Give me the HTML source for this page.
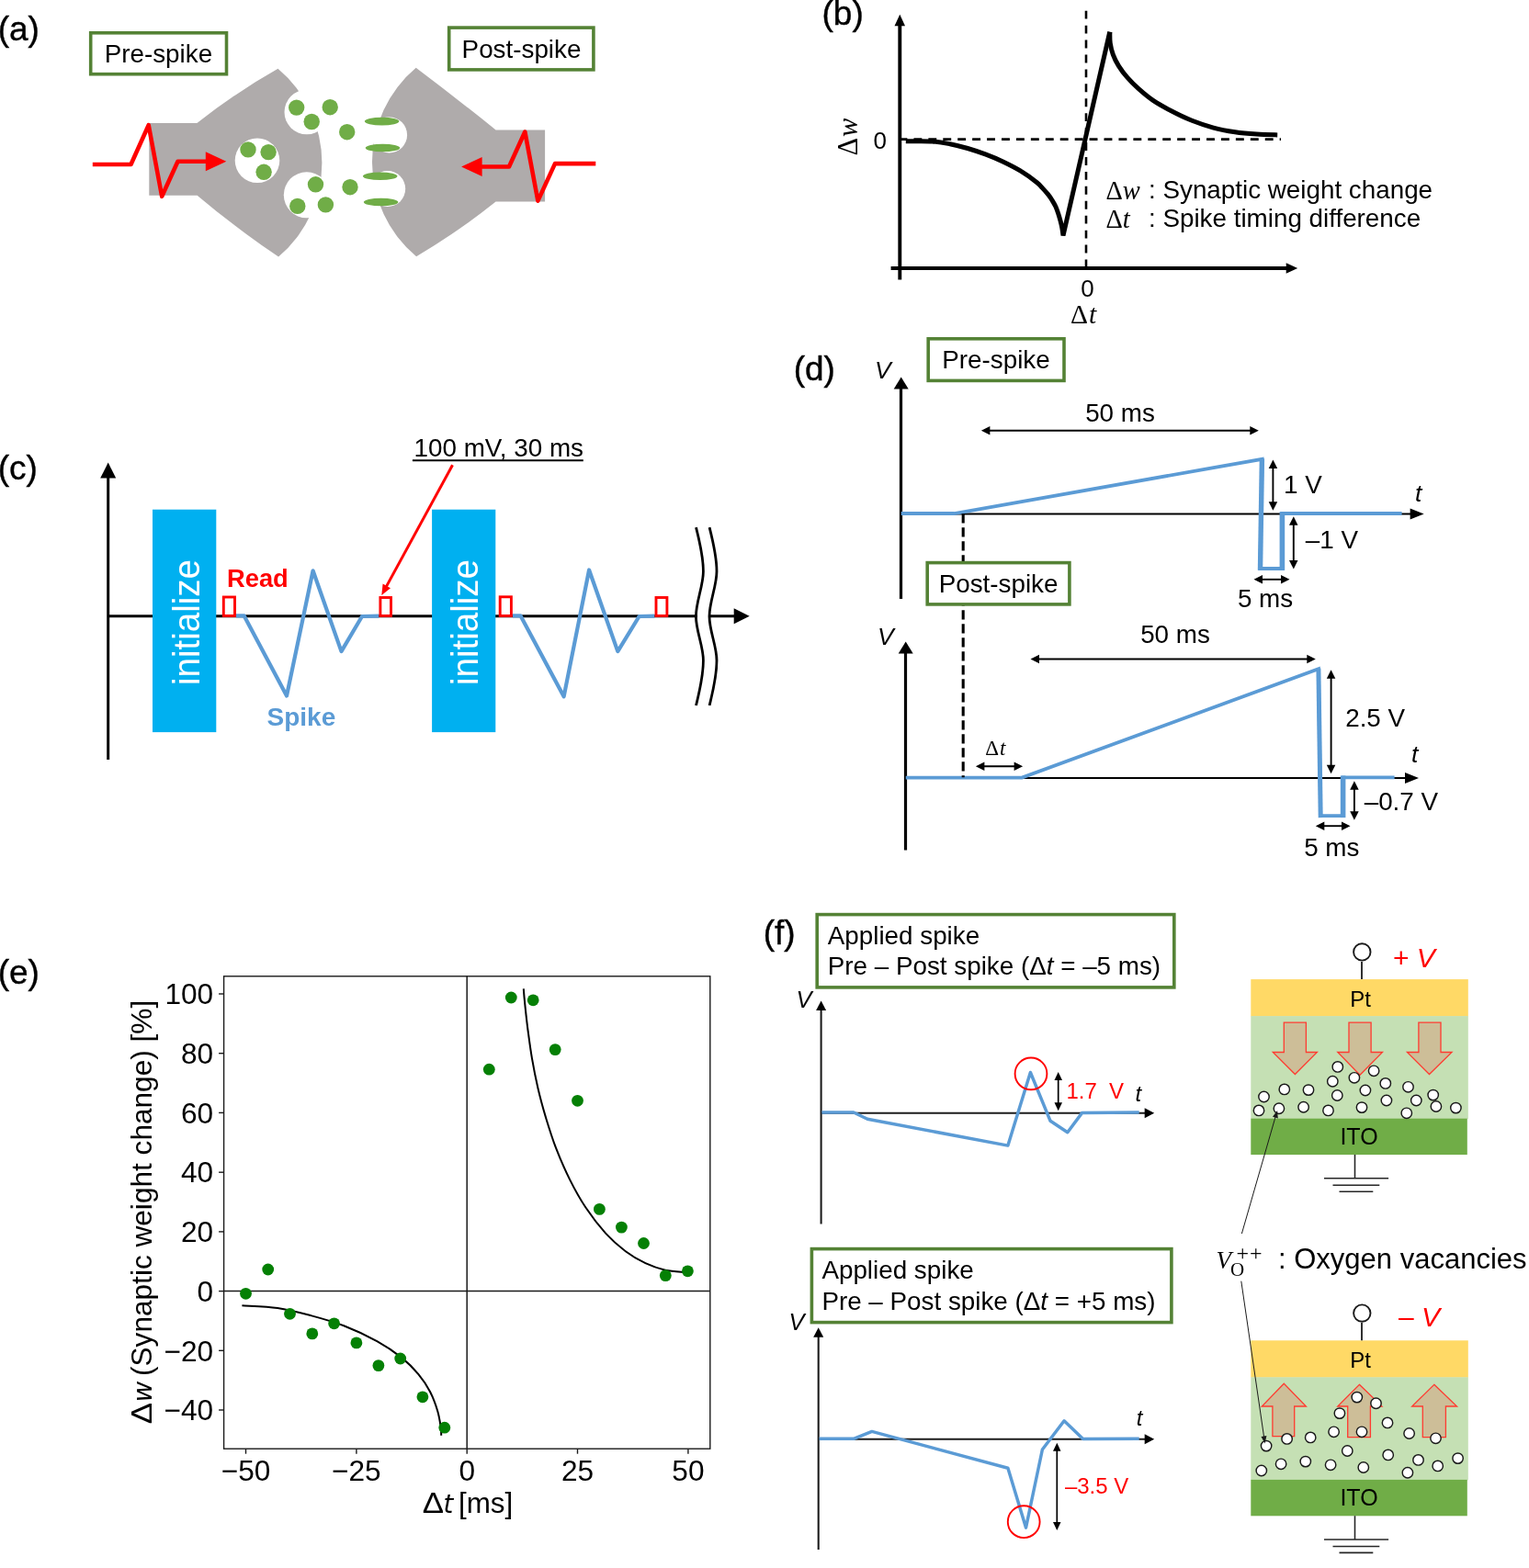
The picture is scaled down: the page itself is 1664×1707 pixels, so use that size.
<!DOCTYPE html>
<html lang="en">
<head>
<meta charset="utf-8">
<title>STDP figure</title>
<style>
html,body{margin:0;padding:0;background:#fff;}
body{width:1664px;height:1707px;overflow:hidden;}
svg{display:block;font-family:"Liberation Sans", Arial, Helvetica, sans-serif;}
</style>
</head>
<body>
<svg width="1664" height="1707" viewBox="0 0 1664 1707">
<rect width="1664" height="1707" fill="#fff"/>
<!-- panel a -->
<text x="-2.3" y="44.3" font-size="37" stroke="#000" stroke-width="0.4">(a)</text>
<rect x="98.7" y="35.8" width="147.8" height="44.9" fill="#fff" stroke="#548235" stroke-width="3.6"/>
<text x="172.4" y="67.6" font-size="27.8" text-anchor="middle">Pre-spike</text>
<rect x="488.7" y="30.1" width="157.2" height="45.8" fill="#fff" stroke="#548235" stroke-width="3.6"/>
<text x="567.5" y="62.8" font-size="27.8" text-anchor="middle">Post-spike</text>
<path d="M162.3,134 L214.4,134 Q256,101 302.5,74.8 A134,134 0 0 1 303.1,279.6 Q257,248.5 214.6,212.7 L162.3,212.7 Z" fill="#afabab"/>
<path d="M593.1,141.5 L539.6,141.5 Q498,108 452.7,73.8 A134,134 0 0 0 453.1,279.2 Q499,252 539.6,219.6 L593.1,219.6 Z" fill="#afabab"/>
<circle cx="280" cy="174.8" r="24.3" fill="#fff"/>
<circle cx="333.8" cy="122" r="24.3" fill="#fff"/>
<circle cx="333.8" cy="212.3" r="25" fill="#fff"/>
<circle cx="423.6" cy="146.9" r="19.5" fill="#fff"/>
<circle cx="421.7" cy="205.6" r="19.5" fill="#fff"/>
<g fill="#70ad47">
<circle cx="322.7" cy="117.1" r="8.7"/>
<circle cx="359.2" cy="116.7" r="8.7"/>
<circle cx="339.2" cy="132.5" r="8.7"/>
<circle cx="377.7" cy="143.7" r="8.7"/>
<circle cx="270" cy="162.9" r="8.7"/>
<circle cx="292.1" cy="165.6" r="8.7"/>
<circle cx="287.1" cy="187.3" r="8.7"/>
<circle cx="343.5" cy="200.8" r="8.7"/>
<circle cx="381" cy="203.7" r="8.7"/>
<circle cx="323.8" cy="224.4" r="8.7"/>
<circle cx="354.4" cy="222.9" r="8.7"/>
<ellipse cx="415.6" cy="132.1" rx="18.8" ry="4.3"/>
<ellipse cx="416.5" cy="161" rx="18.8" ry="4.3"/>
<ellipse cx="413.7" cy="191.7" rx="18.8" ry="4.3"/>
<ellipse cx="414.6" cy="220" rx="18.8" ry="4.3"/>
</g>
<polyline points="100.8,179 142.5,179 161.7,136.2 176.2,213.8 193.5,175.8 226,175.8" fill="none" stroke="#ff0000" stroke-width="4.6" stroke-linejoin="round"/>
<polygon points="246.3,175.8 223.8,186.3 223.8,165.3" fill="#ff0000"/>
<polyline points="648.3,178.1 604,178.1 585.4,218.6 571.3,143.5 554,181.5 522,181.5" fill="none" stroke="#ff0000" stroke-width="4.6" stroke-linejoin="round"/>
<polygon points="502.1,181.5 524.6,171 524.6,192" fill="#ff0000"/>
<!-- panel b -->
<text x="894.5" y="26.6" font-size="37" stroke="#000" stroke-width="0.4">(b)</text>
<line x1="979.3" y1="304.6" x2="979.3" y2="26" stroke="#000" stroke-width="3.9"/>
<polygon points="979.3,15.8 985,28.3 973.5,28.3" fill="#000"/>
<line x1="969.6" y1="292" x2="1401" y2="292" stroke="#000" stroke-width="3.9"/>
<polygon points="1412.2,292 1399.7,297.8 1399.7,286.2" fill="#000"/>
<line x1="1182" y1="11.7" x2="1182" y2="292" stroke="#000" stroke-width="2.6" stroke-dasharray="8.9 7.03"/>
<line x1="978.5" y1="151.6" x2="1394" y2="151.6" stroke="#000" stroke-width="2.6" stroke-dasharray="8.9 7.03"/>
<path d="M985.8,153.8 C990.6,153.8 1006.6,153.4 1014.6,153.9 C1022.6,154.4 1027.4,155.4 1033.8,156.7 C1040.2,158 1046.7,159.6 1053.1,161.5 C1059.5,163.4 1065.9,165.5 1072.3,167.9 C1078.7,170.3 1085.1,172.9 1091.5,176 C1097.9,179.1 1104.7,182.4 1110.8,186.2 C1116.9,189.9 1124.3,195.4 1128.2,198.5 C1132.1,201.6 1132.4,202.5 1134.4,204.6 C1136.4,206.7 1138.4,209 1140.2,211.2 C1142,213.4 1143.6,215.7 1145,218 C1146.4,220.3 1147.7,222.4 1148.8,224.8 C1149.9,227.2 1150.8,229.8 1151.7,232.5 C1152.6,235.2 1153.4,238.1 1154.1,240.7 C1154.8,243.3 1155.3,245.4 1155.8,248 C1156.3,250.6 1156.8,255.1 1157,256.5 L1207.8,34.6" fill="none" stroke="#000" stroke-width="5" stroke-linejoin="bevel"/>
<path d="M1207.8,35 C1207.9,37 1207.6,42.8 1208.2,46.9 C1208.8,51 1209.8,55.2 1211.3,59.4 C1212.8,63.6 1214.9,67.7 1217.5,71.9 C1220.1,76.1 1223.2,80.2 1226.9,84.4 C1230.6,88.6 1234.7,92.7 1239.4,96.9 C1244.1,101.1 1249.3,105.5 1255,109.4 C1260.7,113.3 1266.8,116.6 1273.8,120.3 C1280.8,124 1289.4,128.2 1297.2,131.3 C1305,134.4 1312.8,137 1320.6,139.1 C1328.4,141.2 1336.3,142.6 1344.1,143.8 C1351.9,145 1359.8,145.6 1367.5,146.1 C1375.2,146.6 1386.4,146.8 1390.2,146.9" fill="none" stroke="#000" stroke-width="5"/>
<text x="957.8" y="162.3" font-size="26" text-anchor="middle">0</text>
<text x="1183.4" y="323.3" font-size="26" text-anchor="middle">0</text>
<text transform="translate(932.5,148.6) rotate(-90)" text-anchor="middle" font-size="30.5" letter-spacing="0.8" font-family='"Liberation Serif", "DejaVu Serif", serif'>Δ<tspan font-style="italic">w</tspan></text>
<text x="1179.5" y="352" text-anchor="middle" font-size="29.5" letter-spacing="1" font-family='"Liberation Serif", "DejaVu Serif", serif'>Δ<tspan font-style="italic">t</tspan></text>
<text x="1203.5" y="216.6" font-size="28.5" font-family='"Liberation Serif", "DejaVu Serif", serif'>Δ<tspan font-style="italic">w</tspan></text>
<text x="1203.5" y="248" font-size="28.5" font-family='"Liberation Serif", "DejaVu Serif", serif'>Δ<tspan font-style="italic">t</tspan></text>
<text x="1250" y="215.6" font-size="27.8">: Synaptic weight change</text>
<text x="1250" y="246.9" font-size="27.8">: Spike timing difference</text>
<!-- panel c -->
<text x="-2.3" y="521.6" font-size="37" stroke="#000" stroke-width="0.4">(c)</text>
<line x1="117.7" y1="827" x2="117.7" y2="518" stroke="#000" stroke-width="3"/>
<polygon points="117.7,503.6 126.2,520.6 109.2,520.6" fill="#000"/>
<line x1="117.7" y1="670.7" x2="800" y2="670.7" stroke="#000" stroke-width="3"/>
<polygon points="815.7,670.7 798.7,679.2 798.7,662.2" fill="#000"/>
<rect x="166" y="554.7" width="69.3" height="242.4" fill="#00b0f0"/>
<text transform="translate(216.8,677.5) rotate(-90)" text-anchor="middle" font-size="40.5" fill="#fff" textLength="137" lengthAdjust="spacingAndGlyphs">initialize</text>
<rect x="470.1" y="554.7" width="69.2" height="242.4" fill="#00b0f0"/>
<text transform="translate(520.3,677.5) rotate(-90)" text-anchor="middle" font-size="40.5" fill="#fff" textLength="137" lengthAdjust="spacingAndGlyphs">initialize</text>
<polyline points="257,670.4 265.7,670.4 312,757.5 340.6,621.3 371.5,709.1 394,671 412.5,670.7" fill="none" stroke="#5b9bd5" stroke-width="4.2" stroke-linejoin="round"/>
<polyline points="557.9,670.4 566.6,670.4 613.6,758.3 641.1,620.5 672.3,709.1 695.6,671 712.5,670.7" fill="none" stroke="#5b9bd5" stroke-width="4.2" stroke-linejoin="round"/>
<rect x="243.3" y="650" width="12.2" height="20.4" fill="#fff" stroke="#ff0000" stroke-width="2.9"/>
<rect x="413.9" y="650.5" width="11.6" height="19.9" fill="#fff" stroke="#ff0000" stroke-width="2.9"/>
<rect x="544.2" y="649.8" width="12.2" height="20.6" fill="#fff" stroke="#ff0000" stroke-width="2.9"/>
<rect x="714" y="650.5" width="11.9" height="19.9" fill="#fff" stroke="#ff0000" stroke-width="2.9"/>
<text x="247" y="638.5" font-size="27.3" font-weight="bold" fill="#ff0000">Read</text>
<text x="290.5" y="789.6" font-size="28" font-weight="bold" fill="#5b9bd5">Spike</text>
<text x="450.6" y="497" font-size="27.8">100 mV, 30 ms</text>
<line x1="448.9" y1="501.2" x2="634.8" y2="501.2" stroke="#000" stroke-width="2.1"/>
<line x1="492.5" y1="506.3" x2="419.7" y2="639.9" stroke="#ff0000" stroke-width="3"/>
<polygon points="415.3,648 416.6,635.6 425,640.2" fill="#ff0000"/>
<rect x="759" y="664" width="14" height="14" fill="#fff"/>
<path d="M757.5,574.2 C761.5,590 765.4,606 765.4,622 S757.4,655 757.4,671 S765.4,703 765.4,719 S761.5,752 757.5,768" fill="none" stroke="#000" stroke-width="2.8"/>
<path d="M772.1,574.2 C776.1,590 780,606 780,622 S772,655 772,671 S780,703 780,719 S776.1,752 772.1,768" fill="none" stroke="#000" stroke-width="2.8"/>
<!-- panel d -->
<text x="863.7" y="413.8" font-size="37" stroke="#000" stroke-width="0.4">(d)</text>
<text x="952" y="412.4" font-size="26.5" font-style="italic">V</text>
<line x1="980.5" y1="652" x2="980.5" y2="421" stroke="#000" stroke-width="3.2"/>
<polygon points="980.7,410.6 988.7,423.6 972.7,423.6" fill="#000"/>
<line x1="980.7" y1="559.5" x2="1538" y2="559.5" stroke="#000" stroke-width="2"/>
<polygon points="1549.6,559.5 1534.6,565.5 1534.6,553.5" fill="#000"/>
<text x="955" y="702" font-size="26.5" font-style="italic">V</text>
<line x1="985.5" y1="925.6" x2="985.5" y2="709" stroke="#000" stroke-width="3.2"/>
<polygon points="985.7,698.6 993.7,711.6 977.7,711.6" fill="#000"/>
<line x1="985.7" y1="847" x2="1532" y2="847" stroke="#000" stroke-width="2"/>
<polygon points="1544,847 1529,853 1529,841" fill="#000"/>
<polyline points="980.7,559 1038.5,559 1373.6,499.8 1371.3,619 1395.6,619 1395.6,559 1525.6,559" fill="none" stroke="#5b9bd5" stroke-width="3.8" stroke-linejoin="miter"/>
<line x1="1373.4" y1="499.2" x2="1371.5" y2="620.9" stroke="#5b9bd5" stroke-width="5.4"/>
<line x1="1395.4" y1="557.1" x2="1395.4" y2="620.9" stroke="#5b9bd5" stroke-width="5.6"/>
<polyline points="985.7,846.6 1112.2,846.6 1434.9,728.2 1437.2,888.2 1461.6,888.2 1461.6,846.4 1517.6,846.4" fill="none" stroke="#5b9bd5" stroke-width="3.8" stroke-linejoin="miter"/>
<line x1="1434.9" y1="727.6" x2="1437.2" y2="890.1" stroke="#5b9bd5" stroke-width="5"/>
<line x1="1461.6" y1="844.5" x2="1461.6" y2="890.1" stroke="#5b9bd5" stroke-width="5.6"/>
<line x1="1048.2" y1="559.2" x2="1048.2" y2="846.2" stroke="#000" stroke-width="3.1" stroke-dasharray="10.3 4.7"/>
<rect x="1010.2" y="368.8" width="147.8" height="45.6" fill="#fff" stroke="#548235" stroke-width="3.6"/>
<text x="1084" y="401.3" font-size="27.8" text-anchor="middle">Pre-spike</text>
<rect x="1009.2" y="612.6" width="154.7" height="45.3" fill="#fff" stroke="#548235" stroke-width="3.6"/>
<text x="1086.6" y="644.9" font-size="27.8" text-anchor="middle">Post-spike</text>
<text x="1219" y="459" font-size="27.8" text-anchor="middle">50 ms</text>
<line x1="1075.5" y1="468.7" x2="1362.2" y2="468.7" stroke="#000" stroke-width="1.9"/>
<polygon points="1369.8,468.7 1360.3,473.4 1360.3,463.9" fill="#000"/>
<polygon points="1067.9,468.7 1077.4,463.9 1077.4,473.4" fill="#000"/>
<text x="1397" y="536.6" font-size="27.8">1 V</text>
<line x1="1385.4" y1="508.1" x2="1385.4" y2="548.2" stroke="#000" stroke-width="1.9"/>
<polygon points="1385.4,555.8 1380.7,546.3 1390.2,546.3" fill="#000"/>
<polygon points="1385.4,500.5 1390.2,510 1380.7,510" fill="#000"/>
<text x="1420.8" y="596.7" font-size="27.8">–1 V</text>
<line x1="1407.8" y1="569.9" x2="1407.8" y2="611.9" stroke="#000" stroke-width="1.9"/>
<polygon points="1407.8,619.5 1403,610 1412.5,610" fill="#000"/>
<polygon points="1407.8,562.3 1412.5,571.8 1403,571.8" fill="#000"/>
<line x1="1372.1" y1="630.8" x2="1395.9" y2="630.8" stroke="#000" stroke-width="1.9"/>
<polygon points="1403.5,630.8 1394,635.5 1394,626" fill="#000"/>
<polygon points="1364.5,630.8 1374,626 1374,635.5" fill="#000"/>
<text x="1377" y="661.1" font-size="27.8" text-anchor="middle">5 ms</text>
<text x="1540" y="546.2" font-size="26.5" font-style="italic">t</text>
<text x="1279" y="700.2" font-size="27.8" text-anchor="middle">50 ms</text>
<line x1="1129.1" y1="717.5" x2="1424.2" y2="717.5" stroke="#000" stroke-width="1.9"/>
<polygon points="1431.8,717.5 1422.3,722.2 1422.3,712.8" fill="#000"/>
<polygon points="1121.5,717.5 1131,712.8 1131,722.2" fill="#000"/>
<text x="1464.2" y="790.6" font-size="27.8">2.5 V</text>
<line x1="1448.6" y1="736.9" x2="1448.6" y2="834.7" stroke="#000" stroke-width="1.9"/>
<polygon points="1448.6,842.3 1443.8,832.8 1453.3,832.8" fill="#000"/>
<polygon points="1448.6,729.3 1453.3,738.8 1443.8,738.8" fill="#000"/>
<text x="1484.7" y="881.9" font-size="27.8">–0.7 V</text>
<line x1="1473.9" y1="857.8" x2="1473.9" y2="885.1" stroke="#000" stroke-width="1.9"/>
<polygon points="1473.9,892.7 1469.2,883.2 1478.7,883.2" fill="#000"/>
<polygon points="1473.9,850.2 1478.7,859.7 1469.2,859.7" fill="#000"/>
<line x1="1439.4" y1="899.2" x2="1461.9" y2="899.2" stroke="#000" stroke-width="1.9"/>
<polygon points="1469.5,899.2 1460,904 1460,894.5" fill="#000"/>
<polygon points="1431.8,899.2 1441.3,894.5 1441.3,904" fill="#000"/>
<text x="1449.3" y="932" font-size="27.8" text-anchor="middle">5 ms</text>
<text x="1536" y="830.2" font-size="26.5" font-style="italic">t</text>
<text x="1072.3" y="821.7" font-size="23" letter-spacing="0.8" font-family='"Liberation Serif", "DejaVu Serif", serif'>Δ<tspan font-style="italic">t</tspan></text>
<line x1="1069.5" y1="834.3" x2="1105.5" y2="834.3" stroke="#000" stroke-width="1.9"/>
<polygon points="1113.1,834.3 1103.6,839 1103.6,829.5" fill="#000"/>
<polygon points="1061.9,834.3 1071.4,829.5 1071.4,839" fill="#000"/>
<!-- panel e -->
<text x="-2.3" y="1070.9" font-size="37" stroke="#000" stroke-width="0.4">(e)</text>
<rect x="243.6" y="1062.8" width="529.2" height="514.4" fill="none" stroke="#1a1a1a" stroke-width="1.4"/>
<line x1="508.2" y1="1062.8" x2="508.2" y2="1577.2" stroke="#1a1a1a" stroke-width="1.5"/>
<line x1="243.6" y1="1405.6" x2="772.8" y2="1405.6" stroke="#1a1a1a" stroke-width="1.5"/>
<g stroke="#1a1a1a" stroke-width="1.4">
<line x1="267.5" y1="1577.2" x2="267.5" y2="1582.7"/>
<line x1="387.9" y1="1577.2" x2="387.9" y2="1582.7"/>
<line x1="508.2" y1="1577.2" x2="508.2" y2="1582.7"/>
<line x1="628.5" y1="1577.2" x2="628.5" y2="1582.7"/>
<line x1="748.9" y1="1577.2" x2="748.9" y2="1582.7"/>
<line x1="238.1" y1="1082" x2="243.6" y2="1082"/>
<line x1="238.1" y1="1146.7" x2="243.6" y2="1146.7"/>
<line x1="238.1" y1="1211.4" x2="243.6" y2="1211.4"/>
<line x1="238.1" y1="1276.2" x2="243.6" y2="1276.2"/>
<line x1="238.1" y1="1340.9" x2="243.6" y2="1340.9"/>
<line x1="238.1" y1="1405.6" x2="243.6" y2="1405.6"/>
<line x1="238.1" y1="1470.3" x2="243.6" y2="1470.3"/>
<line x1="238.1" y1="1535" x2="243.6" y2="1535"/>
</g>
<g font-size="31.6" text-anchor="middle">
<text x="267.5" y="1611.6">−50</text>
<text x="387.9" y="1611.6">−25</text>
<text x="508.2" y="1611.6">0</text>
<text x="628.5" y="1611.6">25</text>
<text x="748.9" y="1611.6">50</text>
</g>
<g font-size="31.6" text-anchor="end">
<text x="232.2" y="1093.2">100</text>
<text x="232.2" y="1157.9">80</text>
<text x="232.2" y="1222.6">60</text>
<text x="232.2" y="1287.4">40</text>
<text x="232.2" y="1352.1">20</text>
<text x="232.2" y="1416.8">0</text>
<text x="232.2" y="1481.5">−20</text>
<text x="232.2" y="1546.2">−40</text>
</g>
<text transform="translate(459.8,1646.8) scale(1.11,1)" font-size="31.4">Δ</text>
<text x="482.6" y="1646.8" font-size="27.5" font-style="italic" font-family='"DejaVu Sans", "Liberation Sans", sans-serif'>t</text>
<text x="499" y="1646.8" font-size="31.4">[ms]</text>
<text transform="translate(165.2,1550.2) rotate(-90) scale(1.1,1)" font-size="31.6">Δ</text>
<text transform="translate(165.2,1526.2) rotate(-90)" font-size="27.5" font-style="italic" font-family='"DejaVu Sans", "Liberation Sans", sans-serif'>w</text>
<text transform="translate(165.2,1498) rotate(-90)" font-size="31.6">(Synaptic weight change) [%]</text>
<path d="M263.4,1421.3 C269.8,1421.8 289.6,1422.2 302.1,1424 C314.6,1425.8 326.2,1428.9 338.2,1432.1 C350.2,1435.3 362.2,1438.6 374.2,1443.3 C386.2,1448 399.8,1454.3 410.3,1460.1 C420.8,1465.9 429.8,1472.1 437.3,1478.1 C444.8,1484.1 450.3,1489.9 455.4,1496.1 C460.5,1502.2 464.6,1508.4 468,1515 C471.4,1521.6 474.2,1529.3 476.1,1535.8 C478.1,1542.3 479,1549.3 479.7,1553.8 C480.4,1558.3 480.1,1561.3 480.2,1562.8" fill="none" stroke="#000" stroke-width="2"/>
<path d="M569.8,1076.4 C570,1079.2 570.5,1085.9 571.3,1093.4 C572.1,1100.9 573.2,1111.8 574.5,1121.5 C575.8,1131.2 577.1,1141.4 578.9,1151.9 C580.7,1162.4 582.9,1173.6 585.4,1184.4 C587.9,1195.2 590.9,1206.1 594.1,1216.9 C597.4,1227.7 600.6,1238.2 604.9,1249.4 C609.2,1260.6 614.7,1273.2 620.1,1284.1 C625.5,1294.9 630.9,1304.8 637.4,1314.5 C643.9,1324.2 651.9,1334.6 659.1,1342.6 C666.3,1350.5 673.6,1356.8 680.8,1362.2 C688,1367.6 695.2,1371.8 702.4,1375.2 C709.6,1378.6 716.9,1381.1 724.1,1382.7 C731.3,1384.3 742.2,1384.7 745.8,1385.1" fill="none" stroke="#000" stroke-width="2"/>
<g fill="#058005">
<circle cx="267.5" cy="1408.3" r="6.4"/>
<circle cx="291.7" cy="1382" r="6.4"/>
<circle cx="315.5" cy="1430.3" r="6.4"/>
<circle cx="339.8" cy="1451.9" r="6.4"/>
<circle cx="363.6" cy="1440.8" r="6.4"/>
<circle cx="387.9" cy="1461.9" r="6.4"/>
<circle cx="411.9" cy="1486.6" r="6.4"/>
<circle cx="435.7" cy="1479" r="6.4"/>
<circle cx="459.9" cy="1520.8" r="6.4"/>
<circle cx="483.8" cy="1554.2" r="6.4"/>
<circle cx="532.3" cy="1164.2" r="6.4"/>
<circle cx="556.3" cy="1086" r="6.4"/>
<circle cx="580.2" cy="1088.8" r="6.4"/>
<circle cx="604.2" cy="1142.6" r="6.4"/>
<circle cx="628.5" cy="1198.3" r="6.4"/>
<circle cx="652.4" cy="1316.4" r="6.4"/>
<circle cx="676.4" cy="1336.1" r="6.4"/>
<circle cx="700.5" cy="1353.5" r="6.4"/>
<circle cx="724.3" cy="1388.6" r="6.4"/>
<circle cx="748.4" cy="1383.8" r="6.4"/>
</g>
<!-- panel f -->
<text x="830.7" y="1028.4" font-size="37" stroke="#000" stroke-width="0.4">(f)</text>
<rect x="889.2" y="995.6" width="388.6" height="79.3" fill="#fff" stroke="#548235" stroke-width="3.6"/>
<text x="900.8" y="1028" font-size="27.8">Applied spike</text>
<text x="900.8" y="1061.3" font-size="27.8">Pre – Post spike (Δ<tspan font-style="italic">t</tspan> = –5 ms)</text>
<rect x="883.4" y="1359.6" width="391.5" height="80" fill="#fff" stroke="#548235" stroke-width="3.6"/>
<text x="894.4" y="1392.3" font-size="27.8">Applied spike</text>
<text x="894.4" y="1425.7" font-size="27.8">Pre – Post spike (Δ<tspan font-style="italic">t</tspan> = +5 ms)</text>
<text x="866.6" y="1096.8" font-size="25.5" font-style="italic">V</text>
<line x1="893.6" y1="1332.5" x2="893.6" y2="1098" stroke="#1c1c1c" stroke-width="2.1"/>
<polygon points="893.6,1089.6 899.1,1100.1 888.1,1100.1" fill="#000"/>
<line x1="893.6" y1="1211.8" x2="1247" y2="1211.8" stroke="#1c1c1c" stroke-width="2.1"/>
<polygon points="1256.2,1211.8 1245.7,1217.3 1245.7,1206.3" fill="#000"/>
<polyline points="894.4,1211 929,1211 944,1218.3 1096.9,1247.1 1121.4,1167.5 1143.1,1220.3 1161.8,1232.7 1177.7,1211.4 1239.7,1211" fill="none" stroke="#5b9bd5" stroke-width="3.5" stroke-linejoin="round"/>
<circle cx="1122" cy="1168.9" r="17.4" fill="none" stroke="#ff0000" stroke-width="1.9"/>
<line x1="1151.7" y1="1174.1" x2="1151.7" y2="1202.1" stroke="#000" stroke-width="1.7"/>
<polygon points="1151.7,1209.3 1147.5,1200.3 1156,1200.3" fill="#000"/>
<polygon points="1151.7,1166.9 1156,1175.9 1147.5,1175.9" fill="#000"/>
<text x="1160.4" y="1195.8" font-size="24" fill="#ff0000" xml:space="preserve" style="white-space:pre">1.7  V</text>
<text x="1235.4" y="1199.2" font-size="24" font-style="italic">t</text>
<text x="858.6" y="1447.8" font-size="25.5" font-style="italic">V</text>
<line x1="890.7" y1="1687" x2="890.7" y2="1454" stroke="#1c1c1c" stroke-width="2.1"/>
<polygon points="890.7,1445.3 896.2,1455.8 885.2,1455.8" fill="#000"/>
<line x1="890.7" y1="1566.7" x2="1247" y2="1566.7" stroke="#1c1c1c" stroke-width="2.1"/>
<polygon points="1256.2,1566.7 1245.7,1572.2 1245.7,1561.2" fill="#000"/>
<polyline points="891.5,1566.2 929.6,1566.2 948.9,1558.4 1096.9,1598.2 1116.5,1663.1 1134.4,1578 1158.1,1546.8 1178.6,1566.5 1239.7,1566.2" fill="none" stroke="#5b9bd5" stroke-width="3.5" stroke-linejoin="round"/>
<circle cx="1114.2" cy="1656.7" r="17.4" fill="none" stroke="#ff0000" stroke-width="1.9"/>
<line x1="1150.3" y1="1578" x2="1150.3" y2="1658.8" stroke="#000" stroke-width="1.7"/>
<polygon points="1150.3,1666 1146,1657 1154.5,1657" fill="#000"/>
<polygon points="1150.3,1570.8 1154.5,1579.8 1146,1579.8" fill="#000"/>
<text x="1158.9" y="1625.6" font-size="24" fill="#ff0000">–3.5 V</text>
<text x="1236.8" y="1552" font-size="24" font-style="italic">t</text>
<rect x="1361.3" y="1066.1" width="236.5" height="40.4" fill="#ffd966"/>
<rect x="1361.3" y="1106.1" width="236.5" height="112" fill="#c5e0b4"/>
<rect x="1361.3" y="1217.7" width="235.5" height="39.4" fill="#70ad47"/>
<text x="1480.5" y="1095.8" font-size="24" text-anchor="middle">Pt</text>
<text x="1479" y="1246" font-size="25" text-anchor="middle">ITO</text>
<circle cx="1482.3" cy="1036.4" r="9.2" fill="#fff" stroke="#1a1a1a" stroke-width="1.9"/>
<line x1="1482" y1="1046.9" x2="1482" y2="1066.1" stroke="#1a1a1a" stroke-width="1.8"/>
<line x1="1474.5" y1="1257" x2="1474.5" y2="1282.8" stroke="#262626" stroke-width="1.6"/>
<line x1="1441" y1="1282.8" x2="1511.1" y2="1282.8" stroke="#262626" stroke-width="1.6"/>
<line x1="1450.5" y1="1290.3" x2="1501.3" y2="1290.3" stroke="#262626" stroke-width="1.6"/>
<line x1="1457.5" y1="1297.2" x2="1494.3" y2="1297.2" stroke="#262626" stroke-width="1.6"/>
<text x="1516" y="1053" font-size="30" fill="#ff0000">+ <tspan font-style="italic">V</tspan></text>
<rect x="1361.3" y="1459.3" width="236.5" height="40.4" fill="#ffd966"/>
<rect x="1361.3" y="1499.3" width="236.5" height="112" fill="#c5e0b4"/>
<rect x="1361.3" y="1610.9" width="235.5" height="39.4" fill="#70ad47"/>
<text x="1480.5" y="1489" font-size="24" text-anchor="middle">Pt</text>
<text x="1479" y="1639.2" font-size="25" text-anchor="middle">ITO</text>
<circle cx="1482.3" cy="1429.6" r="9.2" fill="#fff" stroke="#1a1a1a" stroke-width="1.9"/>
<line x1="1482" y1="1440.1" x2="1482" y2="1459.3" stroke="#1a1a1a" stroke-width="1.8"/>
<line x1="1474.5" y1="1650.2" x2="1474.5" y2="1676" stroke="#262626" stroke-width="1.6"/>
<line x1="1441" y1="1676" x2="1511.1" y2="1676" stroke="#262626" stroke-width="1.6"/>
<line x1="1450.5" y1="1683.5" x2="1501.3" y2="1683.5" stroke="#262626" stroke-width="1.6"/>
<line x1="1457.5" y1="1690.4" x2="1494.3" y2="1690.4" stroke="#262626" stroke-width="1.6"/>
<text x="1522" y="1443.5" font-size="30" fill="#ff0000">– <tspan font-style="italic">V</tspan></text>
<g fill="#cdbe98" stroke="#ff3b30" stroke-width="1.3" stroke-linejoin="miter">
<polygon points="1397.3,1113.1 1421.4,1113.1 1421.4,1145.5 1433.4,1145.5 1409.4,1169.5 1385.3,1145.5 1397.3,1145.5" fill="#cdbe98"/>
<polygon points="1468,1113.1 1492.1,1113.1 1492.1,1145.5 1504.5,1145.5 1480,1170.2 1455.8,1145.5 1468,1145.5" fill="#cdbe98"/>
<polygon points="1543.9,1113.1 1568,1113.1 1568,1145.5 1580,1145.5 1555.5,1169.5 1531.4,1145.5 1543.9,1145.5" fill="#cdbe98"/>
<polygon points="1397.3,1506.3 1421.4,1531 1408.7,1531 1408.7,1563.6 1384.9,1563.6 1384.9,1531 1373.3,1531" fill="#cdbe98"/>
<polygon points="1479.4,1507.3 1503.9,1531 1491.4,1531 1491.4,1564.7 1466.7,1564.7 1466.7,1531 1455.8,1531" fill="#cdbe98"/>
<polygon points="1560.8,1507.3 1585.5,1531 1573.4,1531 1573.4,1564.7 1548.3,1564.7 1548.3,1531 1536.7,1531" fill="#cdbe98"/>
</g>
<g fill="#fff" stroke="#1a1a1a" stroke-width="1.45">
<circle cx="1375.5" cy="1194" r="5.7"/>
<circle cx="1370" cy="1208.9" r="5.7"/>
<circle cx="1391.9" cy="1206.7" r="5.7"/>
<circle cx="1397.8" cy="1185.9" r="5.7"/>
<circle cx="1424" cy="1186.6" r="5.7"/>
<circle cx="1418.6" cy="1205.2" r="5.7"/>
<circle cx="1445.5" cy="1208.9" r="5.7"/>
<circle cx="1450.3" cy="1177.2" r="5.7"/>
<circle cx="1455.8" cy="1161.4" r="5.7"/>
<circle cx="1455.3" cy="1192.5" r="5.7"/>
<circle cx="1473.9" cy="1173.3" r="5.7"/>
<circle cx="1485.9" cy="1187" r="5.7"/>
<circle cx="1482" cy="1205.6" r="5.7"/>
<circle cx="1495.1" cy="1165.8" r="5.7"/>
<circle cx="1507.8" cy="1179.4" r="5.7"/>
<circle cx="1508.9" cy="1198" r="5.7"/>
<circle cx="1532.5" cy="1183.3" r="5.7"/>
<circle cx="1530.8" cy="1211.8" r="5.7"/>
<circle cx="1541.3" cy="1198" r="5.7"/>
<circle cx="1559.7" cy="1192.1" r="5.7"/>
<circle cx="1562.9" cy="1204.5" r="5.7"/>
<circle cx="1584.4" cy="1206.1" r="5.7"/>
<circle cx="1378.1" cy="1574.1" r="5.7"/>
<circle cx="1400.6" cy="1566.4" r="5.7"/>
<circle cx="1426.2" cy="1564.9" r="5.7"/>
<circle cx="1372.8" cy="1601" r="5.7"/>
<circle cx="1394.1" cy="1593.8" r="5.7"/>
<circle cx="1420.8" cy="1591.1" r="5.7"/>
<circle cx="1448.1" cy="1594.8" r="5.7"/>
<circle cx="1451.6" cy="1558.8" r="5.7"/>
<circle cx="1457.9" cy="1538.6" r="5.7"/>
<circle cx="1466.3" cy="1579.5" r="5.7"/>
<circle cx="1476.8" cy="1521.1" r="5.7"/>
<circle cx="1482" cy="1558.8" r="5.7"/>
<circle cx="1483.8" cy="1597.5" r="5.7"/>
<circle cx="1497.5" cy="1527.7" r="5.7"/>
<circle cx="1510" cy="1548.9" r="5.7"/>
<circle cx="1510.7" cy="1583.9" r="5.7"/>
<circle cx="1533.6" cy="1560.5" r="5.7"/>
<circle cx="1531.9" cy="1603.2" r="5.7"/>
<circle cx="1543.5" cy="1589.4" r="5.7"/>
<circle cx="1562.5" cy="1565.8" r="5.7"/>
<circle cx="1564.7" cy="1595.9" r="5.7"/>
<circle cx="1586.6" cy="1587.6" r="5.7"/>
</g>
<text x="1323.5" y="1381" font-size="27" font-family='"Liberation Serif", "DejaVu Serif", serif'><tspan font-style="italic">V</tspan></text>
<text x="1339" y="1388.5" font-size="21" font-family='"Liberation Serif", "DejaVu Serif", serif'>O</text>
<text x="1345.5" y="1371.5" font-size="24" font-family='"Liberation Serif", "DejaVu Serif", serif' letter-spacing="1">++</text>
<text x="1391" y="1381.2" font-size="31">: Oxygen vacancies</text>
<line x1="1351.4" y1="1343" x2="1388.3" y2="1215" stroke="#1a1a1a" stroke-width="1"/>
<polygon points="1390.1,1208.9 1390.8,1217.4 1385,1215.8" fill="#1a1a1a"/>
<line x1="1350.8" y1="1394.7" x2="1375.7" y2="1565.1" stroke="#1a1a1a" stroke-width="1"/>
<polygon points="1376.6,1571.4 1372.5,1563.9 1378.4,1563.1" fill="#1a1a1a"/>
</svg>
</body>
</html>
